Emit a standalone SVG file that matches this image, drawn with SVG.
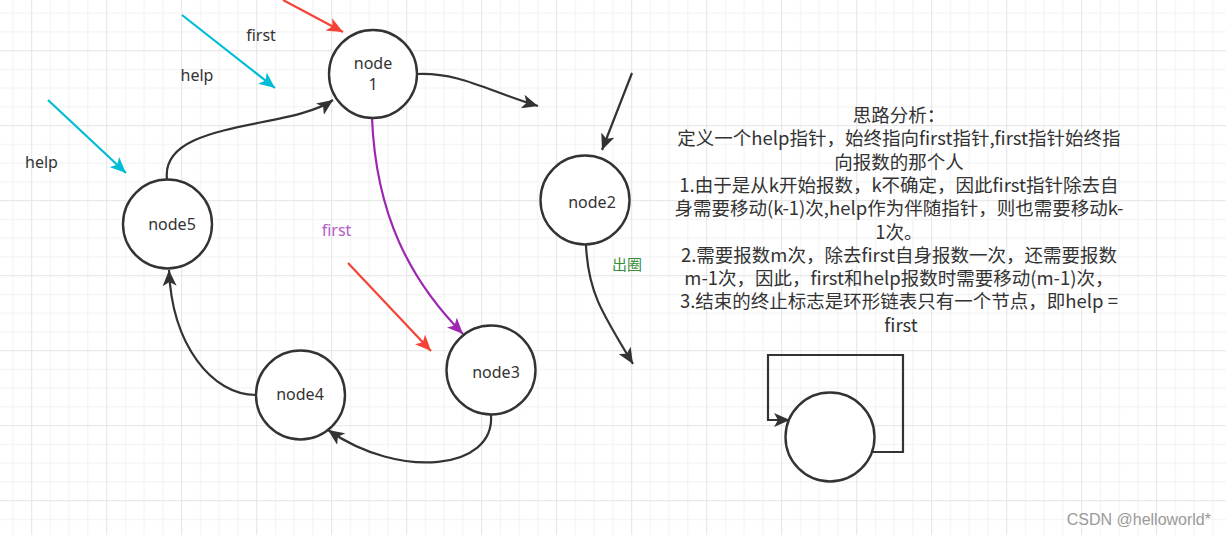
<svg xmlns="http://www.w3.org/2000/svg" width="1226" height="535" viewBox="0 0 1226 535">
<defs>
<pattern id="grid" patternUnits="userSpaceOnUse" x="31.2" y="50.2" width="75" height="75">
<path d="M19.25,0V75M38,0V75M56.75,0V75M0,19.25H75M0,38H75M0,56.75H75" stroke="#f1f1f1" stroke-width="1" fill="none"/>
<path d="M0.5,0V75M0,0.5H75" stroke="#e4e4e4" stroke-width="1" fill="none"/>
</pattern>
<marker id="ak" markerUnits="userSpaceOnUse" markerWidth="17" markerHeight="14" refX="16" refY="7" orient="auto" viewBox="0 0 17 14"><path d="M0,0L16,7L0,14L4,7z" fill="#333"/></marker>
<marker id="ac" markerUnits="userSpaceOnUse" markerWidth="17" markerHeight="14" refX="16" refY="7" orient="auto" viewBox="0 0 17 14"><path d="M0,0L16,7L0,14L4,7z" fill="#00bcd4"/></marker>
<marker id="ar" markerUnits="userSpaceOnUse" markerWidth="17" markerHeight="14" refX="16" refY="7" orient="auto" viewBox="0 0 17 14"><path d="M0,0L16,7L0,14L4,7z" fill="#f44336"/></marker>
<marker id="ap" markerUnits="userSpaceOnUse" markerWidth="17" markerHeight="14" refX="16" refY="7" orient="auto" viewBox="0 0 17 14"><path d="M0,0L16,7L0,14L4,7z" fill="#9c27b0"/></marker>
</defs>
<style>
.node{fill:#fff;stroke:#333;stroke-width:2.4}
.lbl{font-family:"Noto Sans","Liberation Sans",sans-serif;font-size:16px;fill:#333;text-anchor:middle}
.k{fill:none;stroke:#333;stroke-width:2.2;marker-end:url(#ak)}
.c{fill:none;stroke:#00bcd4;stroke-width:2.2;marker-end:url(#ac)}
.r{fill:none;stroke:#f44336;stroke-width:2.2;marker-end:url(#ar)}
.p{fill:none;stroke:#9c27b0;stroke-width:2.2;marker-end:url(#ap)}
.note{font-family:"Noto Sans CJK SC","Noto Sans",sans-serif;font-size:18.5px;fill:#333;text-anchor:middle}
</style>
<rect width="1226" height="535" fill="#fff"/>
<rect width="1226" height="535" fill="url(#grid)"/>

<g id="connectors">
<path class="k" d="M167,179 C160,120 290,130 333,100"/>
<path class="k" d="M417,74 C460,72 490,92 538,106"/>
<path class="k" d="M632,73 L602,150"/>
<path class="k" d="M586,245 C588,290 600,310 633,364"/>
<path class="k" d="M491,415 C495,470 400,480 328,430"/>
<path class="k" d="M256,395 C212,395 172,345 169,270"/>
<path class="p" d="M372,118 C376,215 410,280 463,334"/>
<path class="r" d="M283,0 L343,32"/>
<path class="r" d="M348,263 L431,351"/>
<path class="c" d="M182,15 L275,88"/>
<path class="c" d="M48,100 L126,173"/>
<path class="k" d="M868,452 H903 V355 H768 V420 H790"/>
</g>

<g id="node1"><circle class="node" cx="373" cy="74" r="44"/><text class="lbl" x="373" y="69">node</text><text class="lbl" x="373" y="90">1</text></g>
<g id="node2"><circle class="node" cx="585" cy="200" r="44.5"/><text class="lbl" x="592" y="208">node2</text></g>
<g id="node3"><circle class="node" cx="491" cy="370" r="44.5"/><text class="lbl" x="496" y="378">node3</text></g>
<g id="node4"><circle class="node" cx="300.5" cy="395" r="44.5"/><text class="lbl" x="300" y="400">node4</text></g>
<g id="node5"><circle class="node" cx="167.5" cy="224" r="44.5"/><text class="lbl" x="172" y="230">node5</text></g>
<g id="loopnode"><circle class="node" cx="830" cy="437" r="44.5"/></g>

<g id="labels">
<text class="lbl" x="261" y="41">first</text>
<text class="lbl" x="197" y="81">help</text>
<text class="lbl" x="41.5" y="168">help</text>
<text class="lbl" x="336.5" y="236" style="fill:#b45cc6">first</text>
<text x="612" y="270" style="font-family:'Noto Sans CJK SC',sans-serif;font-size:15px;fill:#388e3c">出圈</text>
</g>

<g id="note">
<text class="note" x="901" y="122">
<tspan x="901" dy="0">思路分析：</tspan>
<tspan x="901" dy="23.3">定义一个help指针，始终指向first指针,first指针始终指</tspan>
<tspan x="901" dy="23.3">向报数的那个人</tspan>
<tspan x="901" dy="23.3">1.由于是从k开始报数，k不确定，因此first指针除去自</tspan>
<tspan x="901" dy="23.3">身需要移动(k-1)次,help作为伴随指针，则也需要移动k-</tspan>
<tspan x="901" dy="23.3">1次。</tspan>
<tspan x="901" dy="23.3">2.需要报数m次，除去first自身报数一次，还需要报数</tspan>
<tspan x="901" dy="23.3">m-1次，因此，first和help报数时需要移动(m-1)次，</tspan>
<tspan x="901" dy="23.3">3.结束的终止标志是环形链表只有一个节点，即help =</tspan>
<tspan x="901" dy="23.3">first</tspan>
</text>
</g>

<text x="1211" y="525" style="font-family:'Liberation Sans',sans-serif;font-size:16px;fill:#9a9a9a;text-anchor:end">CSDN @helloworld*</text>
</svg>
